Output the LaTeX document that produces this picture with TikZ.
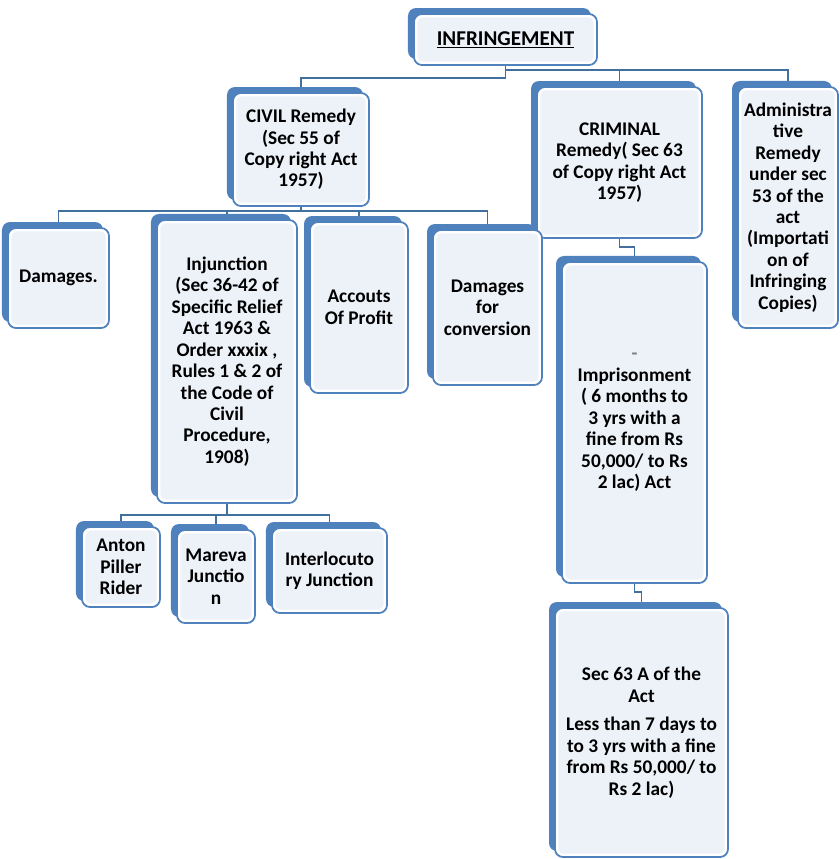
\documentclass[tikz,border=0pt]{standalone}
\usepackage{fontspec}
\setmainfont{Carlito}
\usepackage{tikz}
\usetikzlibrary{shadows,backgrounds}

\definecolor{boxblue}{HTML}{4F81BD}
\definecolor{boxfill}{HTML}{EDF2F9}
\definecolor{linkblue}{HTML}{41709F}

\newcommand{\remedyfont}{\fontsize{16.5}{18.3}\selectfont\bfseries}

\tikzset{
  remedy/.style={draw=boxblue, line width=1.5pt, fill=white, rounded corners=0.24cm,
    align=center, font=\remedyfont, inner sep=0pt,
    general shadow={fill=boxblue, shadow xshift=-0.18cm, shadow yshift=0.18cm},
    path picture={\fill[boxfill, rounded corners=0.16cm]
      ([shift={(0.1cm,0.1cm)}]path picture bounding box.south west) rectangle
      ([shift={(-0.1cm,-0.1cm)}]path picture bounding box.north east);}},
  link/.style={draw=linkblue, line width=1.5pt}
}

\begin{document}
\begin{tikzpicture}[x=0.03cm,y=-0.03cm]
  \useasboundingbox (0,0) rectangle (840,859);

  % top level
  \node[remedy, minimum width=5.49cm, minimum height=1.53cm, font=\fontsize{18}{20}\selectfont\bfseries] (infr) at (505.5,39.5) {\underline{INFRINGEMENT}};
  \node[remedy, minimum width=4.08cm, minimum height=3.39cm] (civil) at (301,149.5)
    {CIVIL Remedy\\(Sec 55 of\\Copy right Act\\1957)};
  \node[remedy, minimum width=4.95cm, minimum height=4.53cm] (crim) at (619.5,162.5)
    {CRIMINAL\\Remedy( Sec 63\\of Copy right Act\\1957)};
  \node[remedy, minimum width=3.0cm, minimum height=7.23cm] (admin) at (788,207.5)
    {Administra\\tive\\Remedy\\under sec\\53 of the\\act\\(Importati\\on of\\Infringing\\Copies)};

  % civil remedies
  \node[remedy, minimum width=3.03cm, minimum height=3.0cm] (dam) at (58.5,278) {Damages.};
  \node[remedy, minimum width=4.2cm, minimum height=8.49cm] (inj) at (227,361.5)
    {Injunction\\(Sec 36-42 of\\Specific Relief\\Act 1963 \&\\Order xxxix ,\\Rules 1 \& 2 of\\the Code of\\Civil\\Procedure,\\1908)};
  \node[remedy, minimum width=2.94cm, minimum height=5.13cm] (acc) at (359,307.5) {Accouts\\Of Profit};
  \node[remedy, minimum width=3.27cm, minimum height=4.65cm] (conv) at (487.5,307.5) {Damages\\for\\conversion};

  % injunction types
  \node[remedy, minimum width=2.34cm, minimum height=2.4cm] (anton) at (121,567) {Anton\\Piller\\Rider};
  \node[remedy, minimum width=2.34cm, minimum height=2.79cm] (mareva) at (216,576.5) {Mareva\\Junctio\\n};
  \node[remedy, minimum width=3.45cm, minimum height=2.55cm] (inter) at (329.5,570.5) {Interlocuto\\ry Junction};

  % criminal remedies
  \node[remedy, minimum width=4.35cm, minimum height=9.63cm] (impr) at (634.5,422.5)
    {\textcolor{gray}{-}\\Imprisonment\\( 6 months to\\3 yrs with a\\fine from Rs\\50,000/ to Rs\\2 lac) Act};
  \node[remedy, minimum width=5.19cm, minimum height=7.47cm] (sec) at (641.5,732.5)
    {Sec 63 A of the\\Act\\[0.22cm]Less than 7 days to\\to 3 yrs with a fine\\from Rs 50,000/ to\\Rs 2 lac)};

  \coordinate (topL) at (0,78);
  \coordinate (topR) at (0,70);
  \coordinate (civbar) at (0,211);
  \coordinate (injbar) at (0,515);

  \begin{scope}[on background layer]
    \draw[link] (infr.south) -- (infr.south |- topL) -| (civil.north);
    \draw[link] (infr.south |- topR) -| (crim.north);
    \draw[link] (infr.south |- topR) -| (admin.north);
    \draw[link] (civil.south) -- (civil.south |- civbar) -| (dam.north);
    \draw[link] (civil.south |- civbar) -| (inj.north);
    \draw[link] (civil.south |- civbar) -| (acc.north);
    \draw[link] (civil.south |- civbar) -| (conv.north);
    \draw[link] (inj.south) -- (inj.south |- injbar) -| (anton.north);
    \draw[link] (inj.south |- injbar) -| (mareva.north);
    \draw[link] (inj.south |- injbar) -| (inter.north);
    \draw[link] (crim.south) -- ++(0,8) -| (impr.north);
    \draw[link] (impr.south) -- ++(0,8) -| (sec.north);
  \end{scope}
\end{tikzpicture}
\end{document}
